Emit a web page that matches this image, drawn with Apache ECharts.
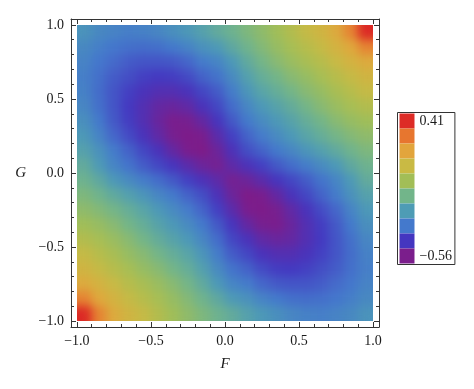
<!DOCTYPE html>
<html><head><meta charset="utf-8">
<script src="https://cdn.jsdelivr.net/npm/echarts@6/dist/echarts.min.js"></script>
<style>
html,body{margin:0;padding:0;background:#fff;}
#root{position:relative;width:474px;height:389px;}
#hmwrap{position:absolute;left:77px;top:25px;width:296px;height:296px;overflow:hidden;}
#hm{width:296px;height:296px;filter:url(#smooth);}
#c{position:absolute;left:0;top:0;width:474px;height:389px;}
</style>
</head><body>
<svg width="0" height="0" style="position:absolute;left:0;top:0">
  <defs>
    <filter id="smooth" x="-5%" y="-5%" width="110%" height="110%" color-interpolation-filters="sRGB">
      <feGaussianBlur stdDeviation="5"/>
      <feComponentTransfer><feFuncA type="linear" slope="0" intercept="1"/></feComponentTransfer>
    </filter>
  </defs>
</svg>
<div id="root">
  <div id="hmwrap"><div id="hm"></div></div>
  <div id="c"></div>
</div>
<script>
// cell centres of the density plot
const fCenters = [-0.95,-0.85,-0.75,-0.65,-0.55,-0.45,-0.35,-0.25,-0.15,-0.05,0.05,0.15,0.25,0.35,0.45,0.55,0.65,0.75,0.85,0.95];
const gCenters = [-0.95,-0.85,-0.75,-0.65,-0.55,-0.45,-0.35,-0.25,-0.15,-0.05,0.05,0.15,0.25,0.35,0.45,0.55,0.65,0.75,0.85,0.95];
// values, one row per G (top to bottom), F from -0.95 to 0.95
const zRowGp95 = [-0.245,-0.275,-0.29,-0.30,-0.295,-0.28,-0.255,-0.23,-0.20,-0.165,-0.135,-0.10,-0.065,-0.03,0.015,0.06,0.095,0.145,0.235,0.37];
const zRowGp85 = [-0.275,-0.30,-0.32,-0.33,-0.335,-0.33,-0.315,-0.29,-0.25,-0.225,-0.175,-0.13,-0.09,-0.05,-0.015,0.025,0.06,0.105,0.155,0.235];
const zRowGp75 = [-0.29,-0.32,-0.34,-0.36,-0.37,-0.37,-0.365,-0.345,-0.31,-0.285,-0.23,-0.17,-0.12,-0.08,-0.045,-0.01,0.025,0.065,0.105,0.145];
const zRowGp65 = [-0.30,-0.33,-0.36,-0.38,-0.40,-0.41,-0.405,-0.385,-0.35,-0.325,-0.27,-0.205,-0.155,-0.12,-0.08,-0.05,-0.015,0.025,0.06,0.095];
const zRowGp55 = [-0.295,-0.335,-0.37,-0.40,-0.425,-0.44,-0.44,-0.425,-0.39,-0.36,-0.305,-0.24,-0.19,-0.155,-0.12,-0.08,-0.05,-0.01,0.025,0.06];
const zRowGp45 = [-0.28,-0.33,-0.37,-0.41,-0.44,-0.47,-0.48,-0.465,-0.425,-0.39,-0.335,-0.28,-0.23,-0.195,-0.16,-0.12,-0.08,-0.045,-0.015,0.015];
const zRowGp35 = [-0.255,-0.315,-0.365,-0.405,-0.44,-0.48,-0.51,-0.505,-0.47,-0.42,-0.365,-0.315,-0.27,-0.23,-0.195,-0.155,-0.12,-0.08,-0.05,-0.03];
const zRowGp25 = [-0.23,-0.29,-0.345,-0.385,-0.425,-0.465,-0.505,-0.55,-0.51,-0.455,-0.40,-0.35,-0.31,-0.27,-0.23,-0.19,-0.155,-0.12,-0.09,-0.065];
const zRowGp15 = [-0.20,-0.25,-0.31,-0.35,-0.39,-0.425,-0.47,-0.51,-0.555,-0.485,-0.43,-0.38,-0.35,-0.315,-0.28,-0.24,-0.205,-0.17,-0.13,-0.10];
const zRowGp05 = [-0.165,-0.225,-0.285,-0.325,-0.36,-0.39,-0.42,-0.455,-0.485,-0.50,-0.46,-0.43,-0.40,-0.365,-0.335,-0.305,-0.27,-0.23,-0.175,-0.135];
const zRowGm05 = [-0.135,-0.175,-0.23,-0.27,-0.305,-0.335,-0.365,-0.40,-0.43,-0.46,-0.50,-0.485,-0.455,-0.42,-0.39,-0.36,-0.325,-0.285,-0.225,-0.165];
const zRowGm15 = [-0.10,-0.13,-0.17,-0.205,-0.24,-0.28,-0.315,-0.35,-0.38,-0.43,-0.485,-0.555,-0.51,-0.47,-0.425,-0.39,-0.35,-0.31,-0.25,-0.20];
const zRowGm25 = [-0.065,-0.09,-0.12,-0.155,-0.19,-0.23,-0.27,-0.31,-0.35,-0.40,-0.455,-0.51,-0.55,-0.505,-0.465,-0.425,-0.385,-0.345,-0.29,-0.23];
const zRowGm35 = [-0.03,-0.05,-0.08,-0.12,-0.155,-0.195,-0.23,-0.27,-0.315,-0.365,-0.42,-0.47,-0.505,-0.51,-0.48,-0.44,-0.405,-0.365,-0.315,-0.255];
const zRowGm45 = [0.015,-0.015,-0.045,-0.08,-0.12,-0.16,-0.195,-0.23,-0.28,-0.335,-0.39,-0.425,-0.465,-0.48,-0.47,-0.44,-0.41,-0.37,-0.33,-0.28];
const zRowGm55 = [0.06,0.025,-0.01,-0.05,-0.08,-0.12,-0.155,-0.19,-0.24,-0.305,-0.36,-0.39,-0.425,-0.44,-0.44,-0.425,-0.40,-0.37,-0.335,-0.295];
const zRowGm65 = [0.095,0.06,0.025,-0.015,-0.05,-0.08,-0.12,-0.155,-0.205,-0.27,-0.325,-0.35,-0.385,-0.405,-0.41,-0.40,-0.38,-0.36,-0.33,-0.30];
const zRowGm75 = [0.145,0.105,0.065,0.025,-0.01,-0.045,-0.08,-0.12,-0.17,-0.23,-0.285,-0.31,-0.345,-0.365,-0.37,-0.37,-0.36,-0.34,-0.32,-0.29];
const zRowGm85 = [0.235,0.155,0.105,0.06,0.025,-0.015,-0.05,-0.09,-0.13,-0.175,-0.225,-0.25,-0.29,-0.315,-0.33,-0.335,-0.33,-0.32,-0.30,-0.275];
const zRowGm95 = [0.37,0.235,0.145,0.095,0.06,0.015,-0.03,-0.065,-0.10,-0.135,-0.165,-0.20,-0.23,-0.255,-0.28,-0.295,-0.30,-0.29,-0.275,-0.245];
const rowsTopToBottom = [zRowGp95,zRowGp85,zRowGp75,zRowGp65,zRowGp55,zRowGp45,zRowGp35,zRowGp25,zRowGp15,zRowGp05,
  zRowGm05,zRowGm15,zRowGm25,zRowGm35,zRowGm45,zRowGm55,zRowGm65,zRowGm75,zRowGm85,zRowGm95];

const majorTicks = [-1,-0.5,0,0.5,1];
const minorTicks = [-0.9,-0.8,-0.7,-0.6,-0.4,-0.3,-0.2,-0.1,0.1,0.2,0.3,0.4,0.6,0.7,0.8,0.9];
const legendMin = -0.56, legendMax = 0.41;
const legendLabels = ['\u22120.56','0.41'];
// legend swatches, low to high
const swatches = ['#7B1E8C','#4436C0','#4479CC','#4E9CB5','#72B58A','#A2BE57','#C9BA44','#E2A53C','#E7762F','#DD2B26'];
// continuous colour ramp: swatch colours sit at the centre of their band
const ramp = ['#7E1C88','#7B1E8C','#602AA6','#4436C0','#4458C6','#4479CC','#498AC0','#4E9CB5','#60A89F','#72B58A',
  '#8AB970','#A2BE57','#B5BC4D','#C9BA44','#D5AF40','#E2A53C','#E48D35','#E7762F','#E2502A','#DD2B26','#D82022'];

const data = [];
rowsTopToBottom.forEach((row, r) => {
  const yi = gCenters.length - 1 - r;
  row.forEach((v, xi) => data.push([xi, yi, v]));
});

const FONT = '"Liberation Serif","DejaVu Serif",serif';
const TXT = '#1a1a1a';
const LINE = '#333';
const fmt = v => (v < 0 ? '\u2212' : '') + Math.abs(v).toFixed(1);

// heatmap layer
const hm = echarts.init(document.getElementById('hm'), null, { renderer: 'canvas' });
hm.setOption({
  animation: false,
  backgroundColor: 'transparent',
  grid: { left: 0, right: 0, top: 0, bottom: 0 },
  xAxis: { type: 'category', data: fCenters.map(String), show: false },
  yAxis: { type: 'category', data: gCenters.map(String), show: false },
  visualMap: { type: 'continuous', show: false, dimension: 2, min: legendMin, max: legendMax, inRange: { color: ramp } },
  series: [{ type: 'heatmap', data: data, itemStyle: { borderWidth: 0 }, emphasis: { disabled: true } }]
});

function frameAxis(pos, ticks, len, withLine, withLabels, extra) {
  return Object.assign({
    type: 'value', min: -1.04, max: 1.04, position: pos,
    axisLine: { show: withLine, onZero: false, lineStyle: { color: LINE, width: 1 } },
    axisTick: { show: true, inside: true, length: len, customValues: ticks, lineStyle: { color: LINE, width: 1 } },
    axisLabel: withLabels ? { show: true, customValues: majorTicks, formatter: fmt, fontSize: 14, fontFamily: FONT, color: TXT, margin: 7 } : { show: false },
    splitLine: { show: false }
  }, extra || {});
}

const step = (legendMax - legendMin) / swatches.length;
const pieces = swatches.map((c, i) => ({
  min: legendMin + i * step, max: legendMin + (i + 1) * step, color: c,
  label: i === 0 ? legendLabels[0] : (i === swatches.length - 1 ? legendLabels[1] : ' ')
}));

const chart = echarts.init(document.getElementById('c'), null, { renderer: 'canvas' });
chart.setOption({
  backgroundColor: 'transparent',
  animation: false,
  grid: { left: 71, top: 19, width: 308, height: 308 },
  xAxis: [
    frameAxis('bottom', majorTicks, 5, true, true, { name: 'F', nameLocation: 'middle', nameGap: 30,
      nameTextStyle: { fontStyle: 'italic', fontSize: 15, fontFamily: FONT, color: TXT } }),
    frameAxis('top', majorTicks, 5, true, false),
    frameAxis('bottom', minorTicks, 3, false, false),
    frameAxis('top', minorTicks, 3, false, false)
  ],
  yAxis: [
    frameAxis('left', majorTicks, 5, true, true, { name: 'G', nameLocation: 'middle', nameGap: 45, nameRotate: 0,
      nameTextStyle: { fontStyle: 'italic', fontSize: 15, fontFamily: FONT, color: TXT } }),
    frameAxis('right', majorTicks, 5, true, false),
    frameAxis('left', minorTicks, 3, false, false),
    frameAxis('right', minorTicks, 3, false, false)
  ],
  visualMap: [
    { type: 'piecewise', seriesIndex: [], orient: 'vertical', left: 397, top: 112,
      pieces: pieces, itemWidth: 15, itemHeight: 15, itemGap: 0, itemSymbol: 'rect', align: 'left',
      selectedMode: false, textGap: 5, padding: [1, 3, 1, 2], borderColor: LINE, borderWidth: 1,
      backgroundColor: '#fff',
      textStyle: { fontSize: 14, fontFamily: FONT, color: TXT } }
  ],
  series: [{ type: 'scatter', data: [], xAxisIndex: 0, yAxisIndex: 0 }]
});
</script></body></html>
